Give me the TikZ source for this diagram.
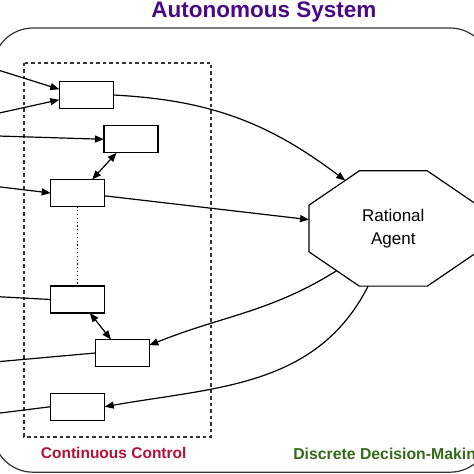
\documentclass[tikz,border=0pt]{standalone}
\usepackage{fontspec}
\setmainfont{Liberation Sans}
\usetikzlibrary{arrows.meta,calc}

\begin{document}
\begin{tikzpicture}[x=1pt,y=1pt,
  ctlbox/.style={draw=drawColor,line width=1.2pt,fill=fillColor,minimum width=54pt,minimum height=27pt,inner sep=0pt,outer sep=0pt},
  wire/.style={draw=drawColor,line width=1.2pt,line join=round},
  arrowwire/.style={wire,-{Triangle[length=9pt,width=7pt]}},
  twowire/.style={wire,{Triangle[length=9pt,width=7pt]}-{Triangle[length=9pt,width=7pt]}},
  heading/.style={inner sep=0pt,outer sep=0pt}]
\definecolor[named]{fillColor}{rgb}{1.00,1.00,1.00}
\definecolor[named]{drawColor}{rgb}{0.00,0.00,0.00}
\definecolor[named]{frameColor}{rgb}{0.20,0.20,0.20}
\definecolor[named]{titleColor}{rgb}{0.29,0.04,0.52}
\definecolor[named]{ctlColor}{rgb}{0.70,0.07,0.22}
\definecolor[named]{dscColor}{rgb}{0.20,0.42,0.10}
\path[use as bounding box,fill=fillColor] (  0.00,  0.00) rectangle (474.00,474.00);
\begin{scope}
\path[clip] (  0.00,  0.00) rectangle (474.00,474.00);

% outer frame and control region
\path[draw=frameColor,line width= 1.2pt,rounded corners=40pt] ( -7.00,446.00) rectangle (490.00,  1.80);
\path[draw=frameColor,line width= 1.2pt,dash pattern=on 3.5pt off 3pt] ( 24.00,411.00) rectangle (211.00, 37.00);

\node[heading,text=titleColor,anchor=base,font=\bfseries\fontsize{22.5}{27}\selectfont] (title) at (264.00,456.80) {Autonomous System};
\node[heading,text=ctlColor,anchor=base,font=\bfseries\fontsize{15.5}{18}\selectfont] (ctlName) at (113.70, 15.00) {Continuous Control};
\node[heading,text=dscColor,anchor=base west,font=\bfseries\fontsize{15.8}{18}\selectfont] (dscName) at (293.30, 14.70) {Discrete Decision-Making};

% controllers
\node[ctlbox] (ctl1) at ( 86.30,379.00) {};
\node[ctlbox] (ctl2) at (131.00,334.70) {};
\node[ctlbox] (ctl3) at ( 77.70,281.00) {};
\node[ctlbox] (ctl4) at ( 77.70,174.50) {};
\node[ctlbox] (ctl5) at (122.30,121.00) {};
\node[ctlbox] (ctl6) at ( 77.70, 67.30) {};

% rational agent
\node[inner sep=0pt,outer sep=0pt,minimum width=168.6pt,minimum height=115.3pt,align=center,
  font=\fontsize{17}{22.7}\selectfont] (agent) at (393.30,245.50) {Rational\\Agent};
\coordinate (octA) at ($(agent.north west)+(  0.0,-34.3)$);
\coordinate (octB) at ($(agent.north west)+( 50.3,  0.0)$);
\coordinate (octC) at ($(agent.north east)+(-50.3,  0.0)$);
\coordinate (octD) at ($(agent.north east)+(  0.0,-34.3)$);
\coordinate (octE) at ($(agent.south east)+(  0.0, 34.3)$);
\coordinate (octF) at ($(agent.south east)+(-50.3,  0.0)$);
\coordinate (octG) at ($(agent.south west)+( 50.3,  0.0)$);
\coordinate (octH) at ($(agent.south west)+(  0.0, 34.3)$);
\path[draw=drawColor,line width= 1.2pt,line join=miter] (octA) -- (octB) -- (octC) -- (octD) --
	(octE) -- (octF) -- (octG) -- (octH) -- cycle;
\coordinate (agentIn) at ($(octA)!0.72!(octB)$);
\coordinate (agentOutA) at ($(octH)!0.55!(octG)$);
\coordinate (agentOutB) at ($(octG)!0.13!(octF)$);

% signals from and to the outside
\coordinate (src1a) at ( -2.00,404.00);
\coordinate (src1b) at ( -2.00,360.70);
\coordinate (src2) at ( -2.00,338.00);
\coordinate (src3) at ( -2.00,287.30);
\coordinate (dst4) at ( -2.00,177.30);
\coordinate (dst5) at ( -2.00,112.30);
\coordinate (dst6) at ( -2.00, 60.70);

\draw[arrowwire] (src1a) -- (ctl1.168);
\draw[arrowwire] (src1b) -- (ctl1.190);
\draw[arrowwire] (src2) -- (ctl2.west);
\draw[arrowwire] (src3) -- (ctl3.west);
\draw[wire] (ctl4.west) -- (dst4);
\draw[wire] (ctl5.west) -- (dst5);
\draw[wire] (ctl6.west) -- (dst6);

% coupling between controllers
\draw[twowire] (ctl2.223) -- (ctl3.43);
\draw[twowire] (ctl4.-48) -- (ctl5.130);
\draw[wire,dash pattern=on 1.2pt off 2.6pt] (ctl3.south) -- (ctl4.north);

% links to the agent
\draw[arrowwire] (ctl1.east) to[out=-3,in=143] (agentIn);
\draw[arrowwire] (ctl3.-6) -- (agent.174);
\draw[arrowwire] (agentOutA) to[out=212,in=22] (ctl5.16);
\draw[arrowwire] (agentOutB) to[out=243,in=10] (ctl6.east);
\end{scope}
\end{tikzpicture}
\end{document}
